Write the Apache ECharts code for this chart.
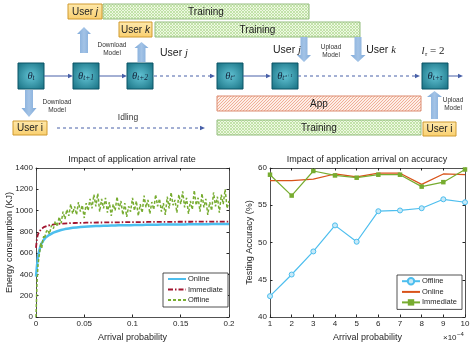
<!DOCTYPE html>
<html><head><meta charset="utf-8">
<script src="https://cdn.jsdelivr.net/npm/echarts@6/dist/echarts.min.js"></script>
<style>html,body{margin:0;padding:0;background:#fff}#c{width:474px;height:345px}</style>
</head><body><div id="c"></div>
<script>
// ---------- data: left chart (energy vs arrival probability) ----------
const arrivalProb = [
  0,0.001,0.002,0.003,0.004,0.005,0.006,0.007,0.008,0.009,
  0.010,0.012,0.014,0.016,0.018,0.020,0.022,0.024,0.026,0.028,
  0.030,0.032,0.034,0.036,0.038,0.040,0.042,0.044,0.046,0.048,
  0.050,0.052,0.054,0.056,0.058,0.060,0.062,0.064,0.066,0.068,
  0.070,0.072,0.074,0.076,0.078,0.080,0.082,0.084,0.086,0.088,
  0.090,0.092,0.094,0.096,0.098,0.100,0.102,0.104,0.106,0.108,
  0.110,0.112,0.114,0.116,0.118,0.120,0.122,0.124,0.126,0.128,
  0.130,0.132,0.134,0.136,0.138,0.140,0.142,0.144,0.146,0.148,
  0.150,0.152,0.154,0.156,0.158,0.160,0.162,0.164,0.166,0.168,
  0.170,0.172,0.174,0.176,0.178,0.180,0.182,0.184,0.186,0.188,
  0.190,0.192,0.194,0.196,0.198,0.200];
const energyOnline = [
  380,480,560,610,645,675,695,712,725,737,
  747,760,772,783,792,800,806,812,817,822,
  826,829,832,835,838,840,842,844,845,847,
  848,849,850,851,852,853,854,855,855,856,
  857,857,858,858,859,859,860,860,861,861,
  862,862,862,863,863,863,864,864,864,865,
  865,865,866,866,866,867,867,867,867,868,
  868,868,868,869,869,869,869,869,870,870,
  870,870,870,871,871,871,871,871,871,872,
  872,872,872,872,872,873,873,873,873,873,
  873,873,874,874,874,874];
const energyImmediate = [
  650,740,775,795,810,822,831,838,844,849,
  853,858,862,866,869,872,874,876,877,878,
  879,880,881,882,883,883,884,884,885,885,
  885,886,886,886,887,887,887,888,888,888,
  888,889,889,889,889,889,890,890,890,890,
  890,891,891,891,891,891,891,892,892,892,
  892,892,892,893,893,893,893,893,893,893,
  894,894,894,894,894,894,894,894,895,895,
  895,895,895,895,895,895,895,896,896,896,
  896,896,896,896,896,896,896,897,897,897,
  897,897,897,897,897,897];
const energyOffline = [
  0,310,480,560,620,700,650,720,760,740,
  790,820,780,860,830,900,850,940,880,990,
  920,1010,950,1060,970,1040,960,1080,990,1050,
  930,1070,1000,1110,1020,1150,1040,1160,990,1110,
  1020,1120,980,1080,950,1060,1000,1130,1010,1090,
  960,1070,940,1040,990,1120,1000,1090,950,1060,
  980,1140,1030,1100,970,1080,1010,1150,1040,1110,
  990,1070,960,1130,1020,1170,1050,1100,980,1150,
  1060,1180,1030,1120,970,1090,1010,1190,1050,1120,
  990,1160,1030,1110,960,1080,1000,1170,1040,1130,
  980,1150,1060,1200,1020,1090];

// ---------- data: right chart (accuracy vs arrival probability x1e-4) ----------
const arrivalIdx = [1,2,3,4,5,6,7,8,9,10];
const accOffline = [42.8,45.7,48.8,52.3,50.1,54.2,54.3,54.6,55.8,55.4];
const accOnline = [58.3,58.3,58.5,59.2,58.8,59.3,59.3,57.8,59.2,59.1];
const accImmediate = [59.1,56.3,59.6,59.0,58.7,59.1,59.1,57.5,58.1,59.8];

const leftNames = ['Online','Immediate','Offline'];
const rightNames = ['Offline\u200b','Online\u200b','Immediate\u200b'];
const leftTitle = 'Impact of application arrival rate';
const rightTitle = 'Impact of application arrival on accuracy';

const pair = (xs, ys) => xs.map((x, i) => [x, ys[i]]);

// ---------- diagram helpers ----------
const SANS = 'Liberation Sans, Arial, sans-serif';
const SERIF = 'Liberation Serif, DejaVu Serif, serif';
function hatch(bg, line, cross, size) {
  const c = document.createElement('canvas'); c.width = size; c.height = size;
  const g = c.getContext('2d'); g.fillStyle = bg; g.fillRect(0, 0, size, size);
  g.strokeStyle = line; g.lineWidth = 0.8;
  g.beginPath(); g.moveTo(-1, size + 1); g.lineTo(size + 1, -1); g.stroke();
  if (cross) { g.beginPath(); g.moveTo(-1, -1); g.lineTo(size + 1, size + 1); g.stroke(); }
  return c;
}
const greenPat = { image: hatch('#eef8e2', '#b8dd9c', true, 3), repeat: 'repeat' };
const redPat = { image: hatch('#fdeee6', '#ec9d82', false, 3), repeat: 'repeat' };
const G = [];
function bar(x, y, w, h, pat, stroke, label) {
  G.push({ type: 'rect', shape: { x, y, width: w, height: h }, style: { fill: pat, stroke, lineWidth: 1 }, z: 10 });
  G.push({ type: 'text', x: x + w / 2, y: y + h / 2 + 0.5, style: { text: label, font: '10px ' + SANS, fill: '#222', align: 'center', verticalAlign: 'middle' }, z: 11 });
}
function user(x, y, w, h, name, ital) {
  G.push({ type: 'rect', shape: { x, y, width: w, height: h },
    style: { fill: { type: 'linear', x: 0, y: 0, x2: 0, y2: 1, colorStops: [{ offset: 0, color: '#ffe9ad' }, { offset: 1, color: '#f9cf6e' }] }, stroke: '#d09a2e', lineWidth: 1 }, z: 10 });
  G.push({ type: 'text', x: x + w / 2, y: y + h / 2 + 0.5, style: { text: '{a|User }{' + (ital ? 'b' : 'a') + '|' + name + '}', align: 'center', verticalAlign: 'middle',
    rich: { a: { fontSize: 10, fontFamily: SANS, fill: '#222' }, b: { fontSize: 10, fontFamily: SANS, fontStyle: 'italic', fill: '#222' } } }, z: 11 });
}
function theta(x, y, sub, sup) {
  G.push({ type: 'rect', shape: { x, y, width: 26, height: 26 },
    style: { fill: { type: 'radial', x: 0.5, y: 0.5, r: 0.75, colorStops: [{ offset: 0, color: '#62c3d4' }, { offset: 1, color: '#0f6779' }] }, stroke: '#0b5566', lineWidth: 1 }, z: 10 });
  let t = '{m|θ}{s|' + sub + '}' + (sup ? '{p|' + sup + '}' : '');
  G.push({ type: 'text', x: x + 13, y: y + 13, style: { text: t, align: 'center', verticalAlign: 'middle',
    rich: { m: { fontSize: 10.5, fontFamily: SERIF, fontStyle: 'italic', fill: '#14233a', lineHeight: 12, verticalAlign: 'middle' },
            s: { fontSize: 7.5, fontFamily: SERIF, fontStyle: 'italic', fill: '#14233a', lineHeight: 12, verticalAlign: 'bottom' },
            p: { fontSize: 5, fontFamily: SERIF, fontStyle: 'italic', fill: '#14233a', lineHeight: 12, verticalAlign: 'middle' } } }, z: 11 });
}
function harrow(x1, x2, y, dashed) {
  G.push({ type: 'line', shape: { x1, y1: y, x2: x2 - 3, y2: y }, style: { stroke: '#4860a8', lineWidth: 1, lineDash: dashed ? [3, 3] : null }, z: 10 });
  G.push({ type: 'polygon', shape: { points: [[x2 - 5, y - 2.2], [x2, y], [x2 - 5, y + 2.2]] }, style: { fill: '#4860a8' }, z: 10 });
}
function blockArrow(cx, yTail, yTip, shaftW, headW, headH) {
  const dir = yTip < yTail ? -1 : 1;
  const yh = yTip - dir * headH;
  G.push({ type: 'polygon', shape: { points: [
    [cx - shaftW / 2, yTail], [cx - shaftW / 2, yh], [cx - headW / 2, yh], [cx, yTip],
    [cx + headW / 2, yh], [cx + shaftW / 2, yh], [cx + shaftW / 2, yTail]] },
    style: { fill: { type: 'linear', x: 0, y: 0, x2: 1, y2: 0, colorStops: [{ offset: 0, color: '#7ea9d9' }, { offset: 0.5, color: '#a3c3e6' }, { offset: 1, color: '#7ea9d9' }] } }, z: 10 });
}
function txt(x, y, s, size, opt) {
  G.push({ type: 'text', x, y, style: Object.assign({ text: s, font: size + 'px ' + SANS, fill: '#333', align: 'center', verticalAlign: 'middle', lineHeight: size + 1.5 }, opt || {}), z: 11 });
}

// bars
bar(103, 4, 206, 15, greenPat, '#94bd7e', 'Training');
bar(155, 22, 205, 15, greenPat, '#94bd7e', 'Training');
bar(217, 96, 204, 15, redPat, '#dc8b70', 'App');
bar(217, 120, 204, 15, greenPat, '#94bd7e', 'Training');
// users
user(68, 4, 34, 15, 'j', true);
user(119, 22, 33, 15, 'k', true);
user(13, 121, 34, 14, 'i', false);
user(423, 122, 33, 14, 'i', false);
// thetas
theta(18, 63, 't');
theta(73, 63, 't+1');
theta(127, 63, 't+2');
theta(217, 63, 't', 'a');
theta(272, 63, 't', 'a+1');
theta(422, 63, 't+τ');
// connecting arrows
harrow(44, 73, 76, false);
harrow(99, 127, 76, false);
harrow(154, 215, 76, true);
harrow(243, 271, 76, false);
harrow(298, 420, 76, true);
harrow(448, 463, 76, false);
harrow(57, 205, 128, true);
// block arrows
blockArrow(29, 90, 117, 8, 15, 9);
blockArrow(84, 53, 27, 8, 14, 7);
blockArrow(141.5, 62, 42, 8, 14, 6);
blockArrow(304, 37, 62, 7, 14, 7);
blockArrow(358, 37, 62, 7, 15, 7);
blockArrow(434.5, 119, 91, 7, 15, 6);
// texts
txt(112, 49, 'Download\nModel', 6.5);
txt(57, 106, 'Download\nModel', 6.5);
txt(331, 51, 'Upload\nModel', 6.5);
txt(453, 104, 'Upload\nModel', 6.5);
txt(128, 118, 'Idling', 8.5);
function userTxt(x, y, name) {
  G.push({ type: 'text', x, y, style: { text: '{a|User }{b|' + name + '}', align: 'center', verticalAlign: 'middle',
    rich: { a: { fontSize: 10.5, fontFamily: SANS, fill: '#222' }, b: { fontSize: 10.5, fontFamily: SERIF, fontStyle: 'italic', fill: '#222' } } }, z: 11 });
}
userTxt(174, 53, 'j');
userTxt(287, 50, 'j');
userTxt(381, 50, 'k');
G.push({ type: 'text', x: 433, y: 51, style: { text: '{l|l}{s|τ}{e| = 2}', align: 'center', verticalAlign: 'middle',
  rich: { l: { fontSize: 11, fontFamily: SERIF, fontStyle: 'italic', fill: '#222', lineHeight: 13, verticalAlign: 'middle' },
          s: { fontSize: 7, fontFamily: SERIF, fontStyle: 'italic', fill: '#222', lineHeight: 13, verticalAlign: 'bottom' },
          e: { fontSize: 11, fontFamily: SERIF, fill: '#222', lineHeight: 13, verticalAlign: 'middle' } } }, z: 11 });
// x1e-4 exponent label
G.push({ type: 'text', x: 443, y: 338, style: { text: '×10', font: '8px ' + SANS, fill: '#262626', align: 'left', verticalAlign: 'middle' }, z: 11 });
G.push({ type: 'text', x: 457, y: 334, style: { text: '−4', font: '6px ' + SANS, fill: '#262626', align: 'left', verticalAlign: 'middle' }, z: 11 });

// ---------- chart ----------
const AX = '#262626';
const plain = v => String(v);
function mainX(grid, min, max, interval, name) {
  return { type: 'value', gridIndex: grid, min, max, interval, name, nameLocation: 'middle', nameGap: 16, nameMoveOverlap: false,
    nameTextStyle: { fontSize: 9, color: AX, fontFamily: SANS },
    axisLine: { lineStyle: { color: AX, width: 0.8 } }, axisTick: { inside: true, length: 2.5, lineStyle: { color: AX } },
    axisLabel: { fontSize: 8, color: AX, margin: 3, fontFamily: SANS, formatter: plain }, splitLine: { show: false } };
}
function mainY(grid, min, max, interval, name, gap) {
  return { type: 'value', gridIndex: grid, min, max, interval, name, nameLocation: 'middle', nameGap: gap, nameMoveOverlap: false,
    nameTextStyle: { fontSize: 9, color: AX, fontFamily: SANS },
    axisLine: { show: true, lineStyle: { color: AX, width: 0.8 } }, axisTick: { show: true, inside: true, length: 2.5, lineStyle: { color: AX } },
    axisLabel: { fontSize: 8, color: AX, margin: 3, fontFamily: SANS, formatter: plain }, splitLine: { show: false } };
}
function boxAxis(grid, min, max, interval, pos) {
  return { type: 'value', gridIndex: grid, min, max, interval, position: pos,
    axisLine: { show: true, onZero: false, lineStyle: { color: AX, width: 0.8 } }, axisTick: { show: true, inside: true, length: 2.5, lineStyle: { color: AX } },
    axisLabel: { show: false }, splitLine: { show: false } };
}
const noSym = { opacity: 0 };
const legendBase = { orient: 'vertical', padding: [2, 5, 3, 4], itemGap: 2.5, itemWidth: 18, itemHeight: 8,
  backgroundColor: '#fff', borderColor: AX, borderWidth: 0.8, borderRadius: 0, textStyle: { fontSize: 7.5, color: AX, padding: [0, 0, 0, -3] } };

const chart = echarts.init(document.getElementById('c'), null, { renderer: 'canvas' });
chart.setOption({
  animation: false,
  backgroundColor: '#fff',
  textStyle: { fontFamily: SANS },
  graphic: { elements: G },
  title: [
    { text: leftTitle, left: 132, top: 155, textAlign: 'center', padding: 0, textStyle: { fontSize: 9, fontWeight: 'normal', color: AX, fontFamily: SANS } },
    { text: rightTitle, left: 367, top: 155, textAlign: 'center', padding: 0, textStyle: { fontSize: 9, fontWeight: 'normal', color: AX, fontFamily: SANS } }
  ],
  grid: [
    { left: 36, top: 168, width: 193, height: 149 },
    { left: 270, top: 168, width: 195, height: 149 }
  ],
  xAxis: [
    mainX(0, 0, 0.2, 0.05, 'Arrival probability'),
    boxAxis(0, 0, 0.2, 0.05, 'top'),
    mainX(1, 1, 10, 1, 'Arrival probability'),
    boxAxis(1, 1, 10, 1, 'top')
  ],
  yAxis: [
    mainY(0, 0, 1400, 200, 'Energy consumption (KJ)', 22),
    boxAxis(0, 0, 1400, 200, 'right'),
    mainY(1, 40, 60, 5, 'Testing Accuracy (%)', 16),
    boxAxis(1, 40, 60, 5, 'right')
  ],
  legend: [
    Object.assign({}, legendBase, { left: 163, top: 273,
      data: leftNames.map(n => ({ name: n, itemStyle: noSym })) }),
    Object.assign({}, legendBase, { left: 397, top: 275,
      data: [{ name: rightNames[0] }, { name: rightNames[1], itemStyle: noSym }, { name: rightNames[2] }] })
  ],
  series: [
    { name: 'Online', type: 'line', xAxisIndex: 0, yAxisIndex: 0, data: pair(arrivalProb, energyOnline), symbol: 'none',
      lineStyle: { color: '#4dbeee', width: 2.5 }, itemStyle: { color: '#4dbeee' } },
    { name: 'Immediate', type: 'line', xAxisIndex: 0, yAxisIndex: 0, data: pair(arrivalProb, energyImmediate), symbol: 'none',
      lineStyle: { color: '#a2142f', width: 1.8, type: [5, 2, 1.5, 2] }, itemStyle: { color: '#a2142f' } },
    { name: 'Offline', type: 'line', xAxisIndex: 0, yAxisIndex: 0, data: pair(arrivalProb, energyOffline), symbol: 'none',
      lineStyle: { color: '#77ac30', width: 1.5, type: [3, 2] }, itemStyle: { color: '#77ac30' } },
    { name: rightNames[0], type: 'line', xAxisIndex: 2, yAxisIndex: 2, data: pair(arrivalIdx, accOffline), symbol: 'circle', symbolSize: 5,
      lineStyle: { color: '#4dbeee', width: 1.2 }, itemStyle: { color: '#c6e9f8', borderColor: '#4dbeee', borderWidth: 1 } },
    { name: rightNames[1], type: 'line', xAxisIndex: 2, yAxisIndex: 2, data: pair(arrivalIdx, accOnline), symbol: 'none',
      lineStyle: { color: '#d95319', width: 1.2 }, itemStyle: { color: '#d95319' } },
    { name: rightNames[2], type: 'line', xAxisIndex: 2, yAxisIndex: 2, data: pair(arrivalIdx, accImmediate), symbol: 'rect', symbolSize: 4.5,
      lineStyle: { color: '#77ac30', width: 1.2 }, itemStyle: { color: '#77ac30' } }
  ]
});
</script>
</body></html>
